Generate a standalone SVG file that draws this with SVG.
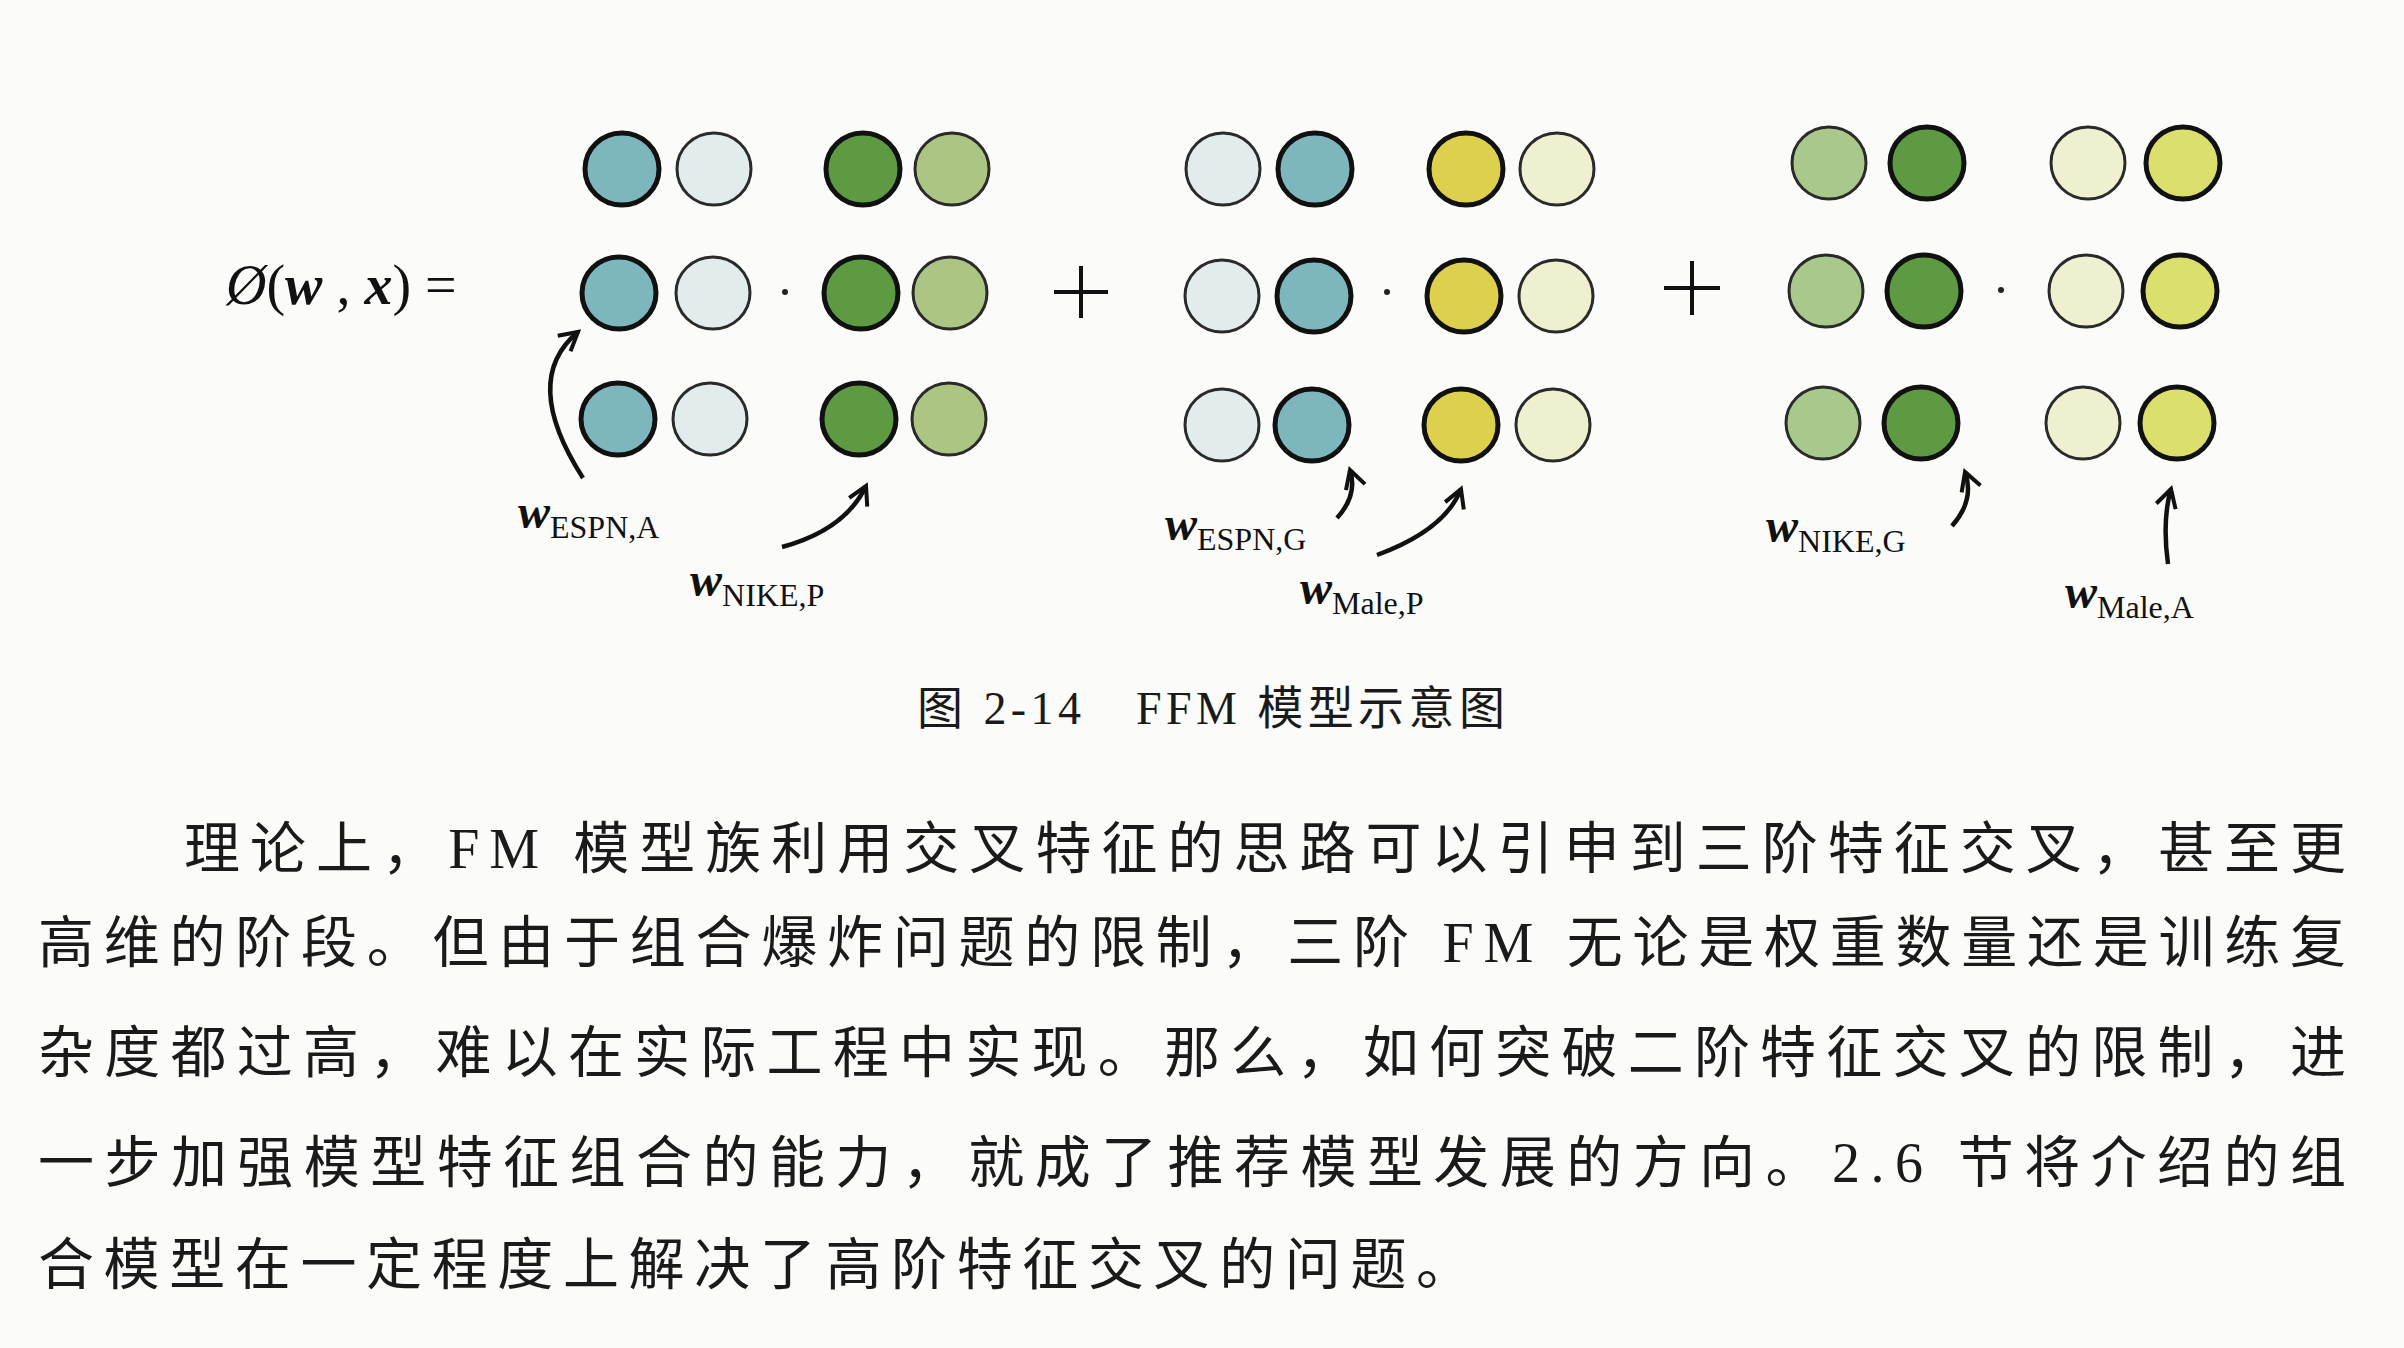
<svg xmlns="http://www.w3.org/2000/svg" width="2404" height="1348" viewBox="0 0 2404 1348">
<defs>
<style>
.d{stroke:#111;stroke-width:5}
.p{stroke:#2a2a2a;stroke-width:3}
.t{fill:#7db6bd}.pb{fill:#e2ecec}.g{fill:#5d9a42}.lg{fill:#adc583}.y{fill:#ddd04c}.py{fill:#eef0cf}.l3{fill:#a9c88c}.yg{fill:#dbe06c}
.lab{font-family:"Liberation Serif",serif;fill:#111}
.w{font-style:italic;font-weight:bold;font-size:48px}
.s{font-size:32px}
.cn{font-family:"Liberation Serif","Noto Sans CJK SC",sans-serif;fill:#1a1a1a}
.arr{fill:none;stroke:#111;stroke-width:4.5;marker-end:url(#ah)}
</style>
<marker id="ah" viewBox="0 0 12 12" refX="10" refY="6" markerWidth="24" markerHeight="24" orient="auto" markerUnits="userSpaceOnUse">
<path d="M1,1 L10,6 L1,11" fill="none" stroke="#111" stroke-width="2"/>
</marker>
</defs>
<rect width="2404" height="1348" fill="#fbfbfa"/>
<g id="formula"><text class="lab" x="226" y="304" style="font-size:56px"><tspan font-style="italic">Ø</tspan>(<tspan font-style="italic" font-weight="bold">w</tspan> , <tspan font-style="italic" font-weight="bold">x</tspan>) =</text></g>
<g id="term1">
<ellipse class="t d" cx="622" cy="169" rx="37" ry="36"/><ellipse class="pb p" cx="714" cy="169" rx="37" ry="36"/><ellipse class="g d" cx="863" cy="169" rx="37" ry="36"/><ellipse class="lg p" cx="952" cy="169" rx="37" ry="36"/>
<ellipse class="t d" cx="619" cy="293" rx="37" ry="36"/><ellipse class="pb p" cx="713" cy="293" rx="37" ry="36"/><ellipse class="g d" cx="861" cy="293" rx="37" ry="36"/><ellipse class="lg p" cx="950" cy="293" rx="37" ry="36"/>
<ellipse class="t d" cx="618" cy="419" rx="37" ry="36"/><ellipse class="pb p" cx="710" cy="419" rx="37" ry="36"/><ellipse class="g d" cx="859" cy="419" rx="37" ry="36"/><ellipse class="lg p" cx="949" cy="419" rx="37" ry="36"/>
<circle cx="785" cy="292" r="3" fill="#222"/>
</g>
<g id="plus1"><path d="M1054,292 H1108 M1081,266 V318" stroke="#111" stroke-width="4"/></g>
<g id="term2">
<ellipse class="pb p" cx="1223" cy="169" rx="37" ry="36"/><ellipse class="t d" cx="1315" cy="169" rx="37" ry="36"/><ellipse class="y d" cx="1466" cy="169" rx="37" ry="36"/><ellipse class="py p" cx="1557" cy="169" rx="37" ry="36"/>
<ellipse class="pb p" cx="1222" cy="296" rx="37" ry="36"/><ellipse class="t d" cx="1314" cy="296" rx="37" ry="36"/><ellipse class="y d" cx="1464" cy="296" rx="37" ry="36"/><ellipse class="py p" cx="1556" cy="296" rx="37" ry="36"/>
<ellipse class="pb p" cx="1222" cy="425" rx="37" ry="36"/><ellipse class="t d" cx="1312" cy="425" rx="37" ry="36"/><ellipse class="y d" cx="1461" cy="425" rx="37" ry="36"/><ellipse class="py p" cx="1553" cy="425" rx="37" ry="36"/>
<circle cx="1387" cy="292" r="3" fill="#222"/>
</g>
<g id="plus2"><path d="M1664,288 H1720 M1692,261 V315" stroke="#111" stroke-width="4"/></g>
<g id="term3">
<ellipse class="l3 p" cx="1829" cy="163" rx="37" ry="36"/><ellipse class="g d" cx="1927" cy="163" rx="37" ry="36"/><ellipse class="py p" cx="2088" cy="163" rx="37" ry="36"/><ellipse class="yg d" cx="2183" cy="163" rx="37" ry="36"/>
<ellipse class="l3 p" cx="1826" cy="291" rx="37" ry="36"/><ellipse class="g d" cx="1924" cy="291" rx="37" ry="36"/><ellipse class="py p" cx="2086" cy="291" rx="37" ry="36"/><ellipse class="yg d" cx="2180" cy="291" rx="37" ry="36"/>
<ellipse class="l3 p" cx="1823" cy="423" rx="37" ry="36"/><ellipse class="g d" cx="1921" cy="423" rx="37" ry="36"/><ellipse class="py p" cx="2083" cy="423" rx="37" ry="36"/><ellipse class="yg d" cx="2177" cy="423" rx="37" ry="36"/>
<circle cx="2001" cy="290" r="3" fill="#222"/>
</g>
<g id="connectors">
<path class="arr" d="M583,478 Q520,380 578,332"/>
<path class="arr" d="M782,547 Q845,530 866,486"/>
<path class="arr" d="M1337,518 Q1358,495 1350,470"/>
<path class="arr" d="M1377,555 Q1445,530 1461,489"/>
<path class="arr" d="M1952,526 Q1975,500 1965,472"/>
<path class="arr" d="M2168,564 Q2162,520 2171,489"/>
</g>
<g id="labels">
<text class="lab" x="518" y="528"><tspan class="w">w</tspan><tspan class="s" dy="10">ESPN,A</tspan></text>
<text class="lab" x="690" y="596"><tspan class="w">w</tspan><tspan class="s" dy="10">NIKE,P</tspan></text>
<text class="lab" x="1165" y="540"><tspan class="w">w</tspan><tspan class="s" dy="10">ESPN,G</tspan></text>
<text class="lab" x="1300" y="604"><tspan class="w">w</tspan><tspan class="s" dy="10">Male,P</tspan></text>
<text class="lab" x="1766" y="542"><tspan class="w">w</tspan><tspan class="s" dy="10">NIKE,G</tspan></text>
<text class="lab" x="2065" y="608"><tspan class="w">w</tspan><tspan class="s" dy="10">Male,A</tspan></text>
</g>
<g id="caption"><text class="cn" x="917" y="724" font-size="46" textLength="588">图 2-14　FFM 模型示意图</text></g>
<g id="body" font-size="56">
<text class="cn" x="184" y="868" textLength="2162">理论上，FM 模型族利用交叉特征的思路可以引申到三阶特征交叉，甚至更</text>
<text class="cn" x="38" y="962" textLength="2308">高维的阶段。但由于组合爆炸问题的限制，三阶 FM 无论是权重数量还是训练复</text>
<text class="cn" x="38" y="1072" textLength="2308">杂度都过高，难以在实际工程中实现。那么，如何突破二阶特征交叉的限制，进</text>
<text class="cn" x="38" y="1182" textLength="2308">一步加强模型特征组合的能力，就成了推荐模型发展的方向。2.6 节将介绍的组</text>
<text class="cn" x="38" y="1284" textLength="1434">合模型在一定程度上解决了高阶特征交叉的问题。</text>
</g>
</svg>
